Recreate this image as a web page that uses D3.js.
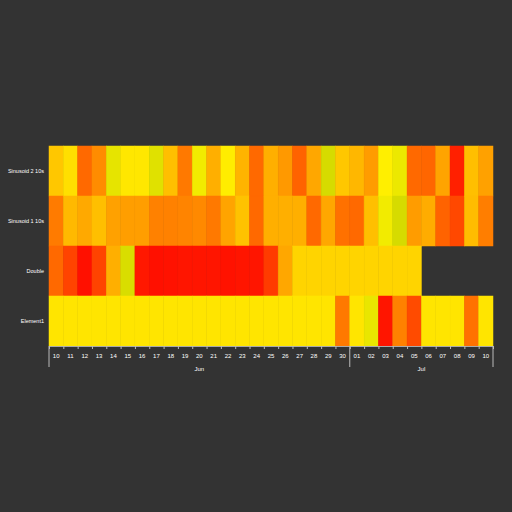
<!DOCTYPE html>
<html>
<head>
<meta charset="utf-8">
<script src="https://cdn.jsdelivr.net/npm/d3@7.9.0/dist/d3.min.js"></script>
<style>
  html, body { margin: 0; padding: 0; background: #333333; }
  svg { display: block; }
  text { font-family: "Liberation Sans", Arial, sans-serif; fill: #ffffff; }
</style>
</head>
<body>
<div id="chart"></div>
<script>
// rows, top to bottom
const rows = ['Sinusoid 2 10s', 'Sinusoid 1 10s', 'Double', 'Element1'];

// one cell per day
const days = [
  '2019-06-10', '2019-06-11', '2019-06-12', '2019-06-13', '2019-06-14', '2019-06-15',
  '2019-06-16', '2019-06-17', '2019-06-18', '2019-06-19', '2019-06-20', '2019-06-21',
  '2019-06-22', '2019-06-23', '2019-06-24', '2019-06-25', '2019-06-26', '2019-06-27',
  '2019-06-28', '2019-06-29', '2019-06-30', '2019-07-01', '2019-07-02', '2019-07-03',
  '2019-07-04', '2019-07-05', '2019-07-06', '2019-07-07', '2019-07-08', '2019-07-09',
  '2019-07-10'
];

const dayLabels = ['10', '11', '12', '13', '14', '15', '16', '17', '18', '19', '20', '21',
  '22', '23', '24', '25', '26', '27', '28', '29', '30', '01', '02', '03', '04', '05',
  '06', '07', '08', '09', '10'];

const months = ['Jun', 'Jul'];
const monthStarts = ['2019-06-10', '2019-07-01', '2019-07-11'];

// daily values per row (Double stops on Jul 05)
const sinusoid2 = [69, 78, 34, 47, 93, 81, 81, 95, 66, 40, 89, 60, 83, 62, 34, 60,
  52, 32, 57, 98, 69, 63, 53, 84, 91, 34, 33, 56, 7, 66, 55];
const sinusoid1 = [41, 64, 58, 66, 55, 54, 54, 43, 43, 44, 46, 40, 56, 67, 34, 60,
  60, 60, 34, 57, 37, 34, 66, 89, 98, 53, 59, 32, 22, 65, 42];
const double = [34, 20, 1, 20, 60, 97, 4, 1, 2, 3, 3, 3, 2, 3, 3, 17, 57,
  74, 74, 74, 74, 74, 74, 74, 74, 74];
const element1 = [80, 80, 80, 80, 80, 80, 80, 80, 80, 80, 80, 80, 80, 80, 80, 80,
  80, 80, 80, 80, 40, 80, 92, 3, 43, 23, 80, 80, 80, 37, 80];

const series = [sinusoid2, sinusoid1, double, element1];

const width = 512;
const height = 512;
const margin = { top: 146, right: 19, bottom: 166, left: 49 };

const parse = d3.timeParse('%Y-%m-%d');

const cells = [];
series.forEach((vals, i) => {
  vals.forEach((v, j) => {
    cells.push({ row: rows[i], date: parse(days[j]), value: v });
  });
});

const svg = d3
  .select('#chart')
  .append('svg')
  .attr('width', width)
  .attr('height', height);

const x = d3
  .scaleTime()
  .domain([parse(days[0]), d3.timeDay.offset(parse(days[days.length - 1]), 1)])
  .range([margin.left, width - margin.right]);

const y = d3
  .scaleBand()
  .domain(rows)
  .range([margin.top, height - margin.bottom]);

const color = d3
  .scaleLinear()
  .domain([0, 85, 100])
  .range(['#ff0d00', '#fff200', '#d0d800']);

// cells, stroked in their own colour so neighbours join without seams
svg
  .append('g')
  .selectAll('rect')
  .data(cells)
  .join('rect')
  .attr('x', (d) => x(d.date))
  .attr('y', (d) => y(d.row))
  .attr('width', (d) => x(d3.timeDay.offset(d.date, 1)) - x(d.date))
  .attr('height', y.bandwidth())
  .attr('fill', (d) => color(d.value))
  .attr('stroke', (d) => color(d.value))
  .attr('stroke-width', 0.5);

// row labels
svg
  .append('g')
  .selectAll('text')
  .data(rows)
  .join('text')
  .attr('x', margin.left - 5)
  .attr('y', (d) => y(d) + y.bandwidth() / 2)
  .attr('dy', '0.35em')
  .attr('text-anchor', 'end')
  .style('font-size', '5.5px')
  .text((d) => d);

const axisY = height - margin.bottom;

// day boundary ticks
const axisG = svg
  .append('g')
  .attr('transform', `translate(0, ${axisY})`)
  .call(d3.axisBottom(x).ticks(d3.timeDay.every(1)).tickSize(3).tickFormat(''));
axisG.select('.domain').attr('stroke', '#aaaaaa');
axisG.selectAll('.tick line').attr('stroke', '#bbbbbb');

// day labels, centred in each column
svg
  .append('g')
  .selectAll('text')
  .data(days)
  .join('text')
  .attr('x', (d) => {
    const t = parse(d);
    return (x(t) + x(d3.timeDay.offset(t, 1))) / 2;
  })
  .attr('y', axisY + 12)
  .attr('text-anchor', 'middle')
  .style('font-size', '6px')
  .text((d, i) => dayLabels[i]);

// month separators
svg
  .append('g')
  .selectAll('line')
  .data(monthStarts)
  .join('line')
  .attr('x1', (d) => x(parse(d)))
  .attr('x2', (d) => x(parse(d)))
  .attr('y1', axisY)
  .attr('y2', axisY + 21)
  .attr('stroke', '#bbbbbb');

// month labels
svg
  .append('g')
  .selectAll('text')
  .data(months)
  .join('text')
  .attr('x', (d, i) => (x(parse(monthStarts[i])) + x(parse(monthStarts[i + 1]))) / 2)
  .attr('y', axisY + 25)
  .attr('text-anchor', 'middle')
  .style('font-size', '6px')
  .text((d) => d);
</script>
</body>
</html>
